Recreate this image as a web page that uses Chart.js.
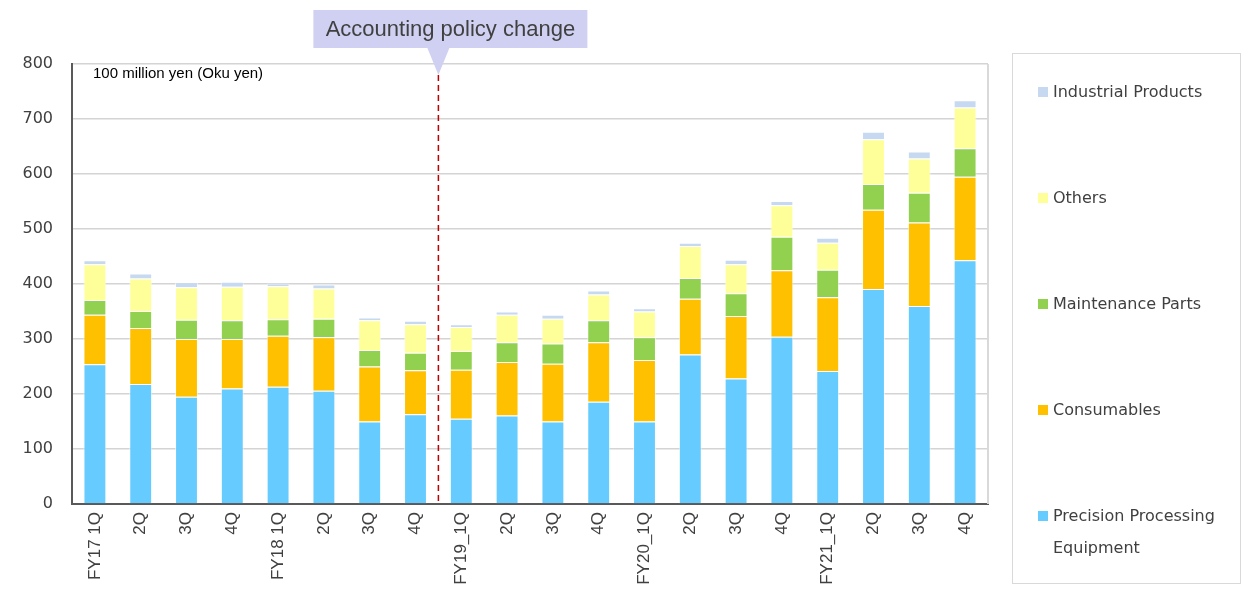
<!DOCTYPE html>
<html>
<head>
<meta charset="utf-8">
<script src="https://cdn.jsdelivr.net/npm/chart.js@4"></script>
<style>
  body { margin: 0; background: #fff; }
  #wrap { position: relative; width: 1257px; height: 607px; }
  #chart { position: absolute; left: 0; top: 0; }
  #legend { position: absolute; left: 1012px; top: 53px; width: 227px; height: 529px; border: 1px solid #d9d9d9; font-family: "DejaVu Sans", sans-serif; font-size: 16px; color: #404040; }
  .item { position: absolute; left: 40px; width: 185px; line-height: 32px; }
  .box { position: absolute; left: -15px; top: 11px; width: 10px; height: 10px; }
</style>
</head>
<body>
<div id="wrap">
  <canvas id="chart" width="1257" height="607"></canvas>
  <div id="legend"></div>
</div>
<script>
const quarters = ["FY17 1Q", "2Q", "3Q", "4Q", "FY18 1Q", "2Q", "3Q", "4Q", "FY19_1Q", "2Q", "3Q", "4Q",
  "FY20_1Q", "2Q", "3Q", "4Q", "FY21_1Q", "2Q", "3Q", "4Q"];
const precision = [254, 218, 195, 210, 213, 206, 150, 163, 155, 161, 150, 186, 150, 272, 228, 304, 242, 391, 360, 443];
const consumables = [90, 102, 105, 90, 93, 97, 100, 80, 89, 97, 105, 108, 112, 101, 114, 121, 134, 144, 152, 152];
const maintenance = [27, 31, 35, 34, 30, 34, 30, 32, 34, 36, 37, 40, 41, 38, 41, 61, 50, 47, 54, 52];
const others = [65, 59, 59, 61, 60, 55, 54, 52, 44, 50, 45, 47, 47, 58, 53, 57, 49, 81, 62, 74];
const industrial = [7, 9, 9, 9, 5, 7, 5, 6, 5, 6, 7, 7, 6, 6, 8, 8, 9, 14, 13, 13];
const yTicks = [0, 100, 200, 300, 400, 500, 600, 700, 800];
const policyChangeAfter = 7; // line drawn between FY18 4Q and FY19_1Q

const series = [
  { label: "Precision Processing Equipment", data: precision, color: "#66CCFF" },
  { label: "Consumables", data: consumables, color: "#FFC000" },
  { label: "Maintenance Parts", data: maintenance, color: "#92D050" },
  { label: "Others", data: others, color: "#FFFF99" },
  { label: "Industrial Products", data: industrial, color: "#C6D9F1" }
];

const extras = {
  id: "extras",
  afterDatasetsDraw(chart) {
    const { ctx, chartArea: a, scales: { x } } = chart;
    ctx.save();
    // right frame
    ctx.strokeStyle = "#d9d9d9"; ctx.lineWidth = 2;
    ctx.beginPath(); ctx.moveTo(a.right, a.top); ctx.lineTo(a.right, a.bottom); ctx.stroke();
    // unit label
    ctx.fillStyle = "#000"; ctx.font = "15px 'Liberation Sans', sans-serif";
    ctx.textBaseline = "middle"; ctx.textAlign = "left";
    ctx.fillText("100 million yen (Oku yen)", a.left + 21, a.top + 10);
    // policy change line
    const lx = (x.getPixelForValue(policyChangeAfter) + x.getPixelForValue(policyChangeAfter + 1)) / 2;
    ctx.strokeStyle = "#C00000"; ctx.lineWidth = 1.5; ctx.setLineDash([6, 4]);
    ctx.beginPath(); ctx.moveTo(lx, 75); ctx.lineTo(lx, a.bottom); ctx.stroke();
    ctx.setLineDash([]);
    // callout
    ctx.fillStyle = "#D0D0F2";
    ctx.fillRect(lx - 125, 10, 274, 38);
    ctx.beginPath(); ctx.moveTo(lx - 11, 48); ctx.lineTo(lx + 11, 48); ctx.lineTo(lx, 75); ctx.closePath(); ctx.fill();
    ctx.fillStyle = "#404040"; ctx.font = "22px 'Liberation Sans', sans-serif"; ctx.textAlign = "center";
    ctx.fillText("Accounting policy change", lx + 12, 30);
    ctx.restore();
  }
};

const chart = new Chart(document.getElementById("chart"), {
  type: "bar",
  data: {
    labels: quarters,
    datasets: series.map(s => ({
      label: s.label, data: s.data, backgroundColor: s.color,
      borderColor: "rgba(255,255,255,0.55)", borderWidth: 1,
      categoryPercentage: 0.5, barPercentage: 1
    }))
  },
  options: {
    responsive: false, animation: false,
    layout: { padding: { top: 64, right: 269, left: 0, bottom: 0 } },
    plugins: { legend: { display: false }, tooltip: { enabled: false } },
    scales: {
      x: {
        stacked: true,
        grid: { display: false },
        border: { color: "#595959", width: 2 },
        ticks: { minRotation: 90, maxRotation: 90, autoSkip: false, padding: 0, color: "#404040",
          font: { family: "'Liberation Sans', sans-serif", size: 17 } },
        afterFit(s) { s.height = 103; }
      },
      y: {
        stacked: true, min: 0, max: 800,
        afterBuildTicks(s) { s.ticks = yTicks.map(v => ({ value: v })); },
        grid: { color: "#d4d4d4", lineWidth: 1.5, drawTicks: false },
        border: { color: "#595959", width: 2 },
        ticks: { padding: 19, color: "#404040", font: { family: "'DejaVu Sans', sans-serif", size: 16 } },
        afterFit(s) { s.width = 72; }
      }
    }
  },
  plugins: [extras]
});

// legend built from the chart's datasets, top item = top of stack
const legend = document.getElementById("legend");
chart.data.datasets.slice().reverse().forEach((d, i) => {
  const el = document.createElement("div");
  el.className = "item";
  el.style.top = (22 + i * 106) + "px";
  el.innerHTML = `<span class="box" style="background:${d.backgroundColor}"></span>${d.label}`;
  legend.appendChild(el);
});
</script>
</body>
</html>
